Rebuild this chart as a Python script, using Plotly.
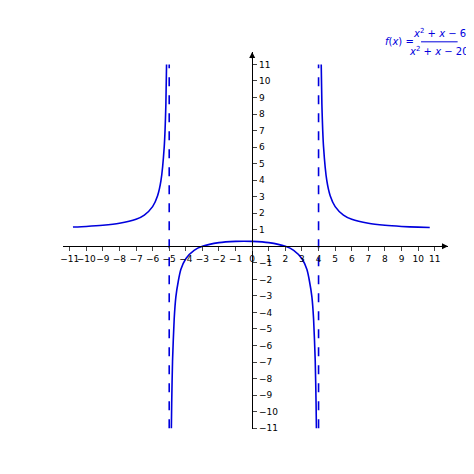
import plotly.graph_objects as go

left_x = [-10.8, -10, -9, -8, -7, -6.5, -6, -5.7, -5.5, -5.3, -5.2, -5.16]
left_y = [1.163, 1.2, 1.269, 1.389, 1.636, 1.889, 2.4, 3.06, 3.95, 6.02, 8.61, 11.0]
mid_x = [-4.87, -4.85, -4.8, -4.7, -4.6, -4.45, -4.3, -4, -3.5, -3, -2, -1, -0.5, 0, 1, 2, 2.5, 3, 3.3, 3.45, 3.6, 3.7, 3.8, 3.85, 3.87]
mid_y = [-11.0, -9.5, -6.95, -4.4, -3.07, -2.1, -1.41, -0.75, -0.244, 0, 0.222, 0.3, 0.309, 0.3, 0.222, 0, -0.244, -0.75, -1.41, -2.1, -3.07, -4.4, -6.95, -9.5, -11.0]
right_x = [4.16, 4.2, 4.3, 4.5, 4.7, 5, 5.5, 6, 7, 8, 9, 10, 10.7]
right_y = [11.0, 8.61, 6.02, 3.95, 3.06, 2.4, 1.889, 1.636, 1.389, 1.269, 1.2, 1.156, 1.133]
asymptotes = [-5, 4]
ticks = list(range(-11, 12))
ytick_vals = [t for t in ticks if t != 0]

def lab(t):
    return str(t).replace('-', '\u2212')

XR = [-11.4, 11.8]
YR = [-11.05, 11.75]
blue = '#0000dd'

fig = go.Figure()
for xs, ys in [(left_x, left_y), (mid_x, mid_y), (right_x, right_y)]:
    fig.add_trace(go.Scatter(x=xs, y=ys, mode='lines', line=dict(color=blue, width=1.6, shape='spline', smoothing=0.6), showlegend=False, hoverinfo='skip'))
for a in asymptotes:
    fig.add_trace(go.Scatter(x=[a, a], y=[-11, 11], mode='lines', line=dict(color=blue, width=1.6, dash='dash'), showlegend=False, hoverinfo='skip'))

fig.update_layout(
    width=474, height=474, plot_bgcolor='white', paper_bgcolor='white',
    margin=dict(l=55, r=34, t=44, b=53, autoexpand=False),
    font=dict(family='DejaVu Sans', size=9, color='black'),
    xaxis=dict(range=XR, anchor='free', position=(0 - YR[0]) / (YR[1] - YR[0]),
               tickvals=ticks, ticktext=[lab(t) for t in ticks], ticks='outside', ticklen=4, tickangle=0,
               showline=True, linecolor='black', showgrid=False, zeroline=False, automargin=False),
    yaxis=dict(range=YR, anchor='free', position=(0 - XR[0]) / (XR[1] - XR[0]), side='right',
               tickvals=ytick_vals, ticktext=[lab(t) for t in ytick_vals], ticks='outside', ticklen=4,
               showline=True, linecolor='black', showgrid=False, zeroline=False, automargin=False),
)
fig.add_annotation(x=XR[1], y=0, ax=-8, ay=0, showarrow=True, arrowhead=2, arrowsize=1.2, arrowwidth=1, arrowcolor='black', text='')
fig.add_annotation(x=0, y=YR[1], ax=0, ay=8, showarrow=True, arrowhead=2, arrowsize=1.2, arrowwidth=1, arrowcolor='black', text='')
fig.add_annotation(x=0.925, y=1.027, xref='paper', yref='paper', text='<i>f</i>(<i>x</i>) = ', showarrow=False, xanchor='right', yanchor='middle', font=dict(color=blue, size=10))
fig.add_annotation(x=0.977, y=1.03, xref='paper', yref='paper', text='<i>x</i><sup>2</sup> + <i>x</i> − 6', showarrow=False, xanchor='center', yanchor='bottom', font=dict(color=blue, size=10))
fig.add_annotation(x=0.977, y=1.024, xref='paper', yref='paper', text='<i>x</i><sup>2</sup> + <i>x</i> − 20', showarrow=False, xanchor='center', yanchor='top', font=dict(color=blue, size=10))
fig.add_shape(type='line', xref='paper', yref='paper', x0=0.93, x1=1.025, y0=1.027, y1=1.027, line=dict(color=blue, width=1))
fig.write_html('out.html')
